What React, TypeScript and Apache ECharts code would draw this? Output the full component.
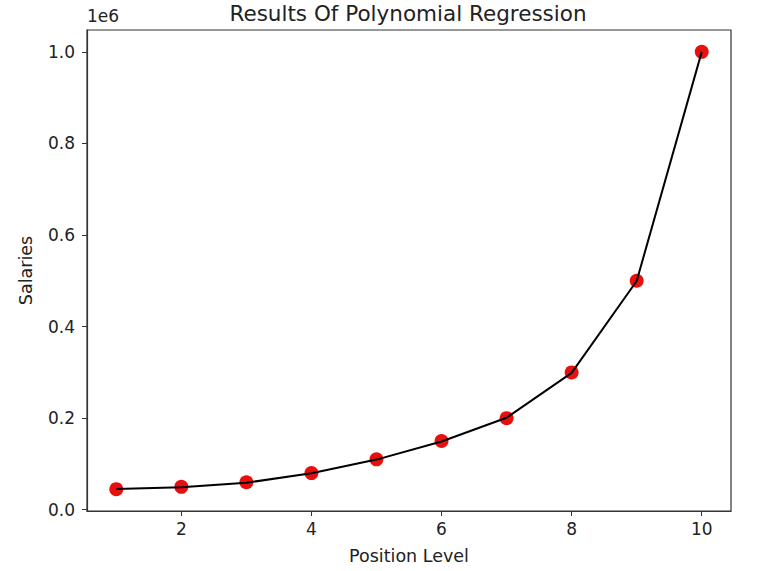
import React, { useEffect, useRef } from "react";
import * as echarts from "echarts";

const levels = [1, 2, 3, 4, 5, 6, 7, 8, 9, 10];
const salaries = [45000, 50000, 60000, 80000, 110000, 150000, 200000, 300000, 500000, 1000000];
const predicted = [45500, 49000, 59000, 79500, 109500, 149000, 201000, 299000, 499500, 1000000];
const xTicks = [2, 4, 6, 8, 10];
const yTicks = [0, 200000, 400000, 600000, 800000, 1000000];

const FONT = "DejaVu Sans";

export default function App() {
  const ref = useRef<HTMLDivElement>(null);
  useEffect(() => {
    if (!ref.current) return;
    const chart = echarts.init(ref.current, undefined, { renderer: "svg" });
    chart.setOption({
      animation: false,
      backgroundColor: "#ffffff",
      textStyle: { fontFamily: FONT },
      graphic: [
        {
          type: "text",
          x: 408,
          y: 13,
          style: {
            text: "Results Of Polynomial Regression",
            fontFamily: FONT,
            fontSize: 21.5,
            fill: "#222",
            align: "center",
            verticalAlign: "middle",
          },
        },
        {
          type: "text",
          left: 87,
          top: 7,
          style: { text: "1e6", fontFamily: FONT, fontSize: 17, fill: "#222" },
        },
      ],
      grid: {
        left: 87,
        right: 37,
        top: 30,
        bottom: 60,
        show: true,
        borderColor: "#333",
        borderWidth: 1.2,
        backgroundColor: "transparent",
      },
      xAxis: {
        type: "value",
        min: 0.55,
        max: 10.45,
        name: "Position Level",
        nameLocation: "middle",
        nameGap: 36,
        nameTextStyle: { fontFamily: FONT, fontSize: 17.5, color: "#222" },
        splitLine: { show: false },
        axisLine: { show: true, onZero: false, lineStyle: { color: "#333", width: 1.2 } },
        axisTick: { show: true, length: 5, customValues: xTicks, lineStyle: { color: "#333" } },
        axisLabel: {
          customValues: xTicks,
          fontFamily: FONT,
          fontSize: 17,
          color: "#222",
          margin: 9,
        },
      },
      yAxis: {
        type: "value",
        min: -2750,
        max: 1047750,
        name: "Salaries",
        nameLocation: "middle",
        nameGap: 52,
        nameTextStyle: { fontFamily: FONT, fontSize: 17.5, color: "#222" },
        splitLine: { show: false },
        axisLine: { show: true, onZero: false, lineStyle: { color: "#333", width: 1.2 } },
        axisTick: { show: true, length: 5, customValues: yTicks, lineStyle: { color: "#333" } },
        axisLabel: {
          customValues: yTicks,
          fontFamily: FONT,
          fontSize: 17,
          color: "#222",
          margin: 12,
          formatter: (v: number) => (v / 1e6).toFixed(1),
        },
      },
      series: [
        {
          type: "scatter",
          data: levels.map((x, i) => [x, salaries[i]]),
          symbolSize: 14,
          itemStyle: { color: "#e8100f", opacity: 1 },
          z: 1,
        },
        {
          type: "line",
          data: levels.map((x, i) => [x, predicted[i]]),
          showSymbol: false,
          symbol: "none",
          lineStyle: { color: "#000", width: 2 },
          z: 2,
        },
      ],
    });
    return () => chart.dispose();
  }, []);
  return <div ref={ref} style={{ width: 768, height: 571, position: "absolute", left: 0, top: 0 }} />;
}
